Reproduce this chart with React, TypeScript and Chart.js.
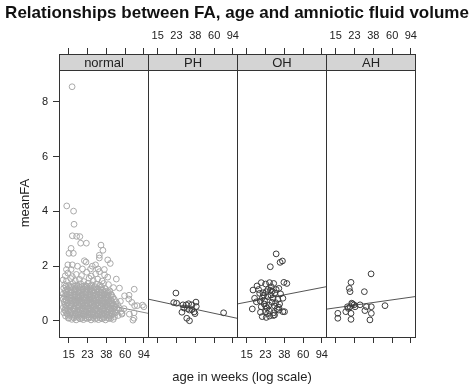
import React, { useEffect, useRef } from 'react';
import { Chart, registerables } from 'chart.js';

Chart.register(...registerables);

// ---------- data ----------
const panelNames = ['normal', 'PH', 'OH', 'AH'];

const ageTickValues = [15, 23.7, 37.6, 59.5, 94];
const ageTickLabels = ['15', '23', '38', '60', '94'];
const faTickValues = [0, 2, 4, 6, 8];
const faTickLabels = ['0', '2', '4', '6', '8'];

const titleText = 'Relationships between FA, age and amniotic fluid volume';
const xTitle = 'age in weeks (log scale)';
const yTitle = 'meanFA';

// [age in weeks, meanFA]
const normalPoints: number[][] = [
  [16.2, 0.06], [18.0, 0.04], [19.8, 0.08], [21.5, 0.05], [23.6, 0.09], [25.9, 0.04], [28.4, 0.07], [31.0, 0.05], [33.9, 0.08], [36.8, 0.04], [40.1, 0.09], [14.9, 0.1], [44.5, 0.06], [72, 0.03], [74, 0.1],
  [15.1, 0.12], [17.0, 0.11], [18.9, 0.13], [20.7, 0.1], [22.6, 0.12], [24.8, 0.11], [27.1, 0.13], [29.7, 0.1], [32.4, 0.12], [35.3, 0.11], [38.5, 0.13], [42.1, 0.1],
  [13.9, 0.18], [15.4, 0.2], [17.1, 0.16], [18.8, 0.21], [20.6, 0.17], [22.5, 0.2], [24.6, 0.15], [26.8, 0.22], [29.2, 0.18], [31.9, 0.2], [34.8, 0.16], [37.9, 0.21], [41.3, 0.18], [45.8, 0.15], [50.2, 0.2],
  [14.6, 0.24], [16.3, 0.23], [18.0, 0.25], [19.9, 0.22], [21.8, 0.24], [23.9, 0.23], [26.0, 0.25], [28.3, 0.22], [30.9, 0.24], [33.6, 0.23], [36.6, 0.25], [39.9, 0.22], [43.5, 0.24],
  [13.3, 0.3], [14.5, 0.27], [16.0, 0.32], [17.7, 0.28], [19.4, 0.31], [21.2, 0.26], [23.1, 0.33], [25.2, 0.28], [27.5, 0.3], [30.0, 0.27], [32.8, 0.32], [35.7, 0.29], [39.0, 0.31], [42.6, 0.27], [47.0, 0.3], [55.2, 0.28], [66, 0.25], [74, 0.3],
  [14.0, 0.35], [15.6, 0.34], [17.3, 0.36], [19.0, 0.33], [20.9, 0.35], [22.8, 0.34], [24.9, 0.36], [27.2, 0.33], [29.6, 0.35], [32.3, 0.34], [35.2, 0.36], [38.4, 0.33], [41.9, 0.35], [46.0, 0.34],
  [13.6, 0.4], [15.0, 0.37], [16.6, 0.43], [18.3, 0.38], [20.0, 0.42], [21.9, 0.36], [23.9, 0.44], [26.1, 0.39], [28.5, 0.41], [31.1, 0.37], [33.9, 0.43], [37.0, 0.38], [40.4, 0.42], [44.2, 0.36], [48.9, 0.41], [54, 0.35], [58, 0.45],
  [13.9, 0.45], [15.4, 0.46], [17.0, 0.44], [18.8, 0.46], [20.6, 0.45], [22.5, 0.44], [24.5, 0.46], [26.8, 0.45], [29.3, 0.44], [31.9, 0.46], [34.8, 0.45], [37.9, 0.44], [41.4, 0.46], [45.3, 0.45],
  [13.2, 0.5], [14.3, 0.47], [15.7, 0.53], [17.3, 0.48], [19.0, 0.52], [20.8, 0.46], [22.7, 0.54], [24.8, 0.49], [27.1, 0.51], [29.6, 0.47], [32.3, 0.53], [35.3, 0.48], [38.5, 0.52], [42.0, 0.46], [46.3, 0.5], [51.5, 0.48], [75, 0.56], [80, 0.56],
  [14.1, 0.55], [15.9, 0.56], [17.6, 0.54], [19.4, 0.56], [21.2, 0.55], [23.2, 0.54], [25.4, 0.56], [27.8, 0.55], [30.3, 0.54], [33.1, 0.56], [36.1, 0.55], [39.4, 0.54], [43.0, 0.56], [47.2, 0.55],
  [13.7, 0.6], [15.2, 0.57], [16.8, 0.63], [18.6, 0.58], [20.4, 0.62], [22.3, 0.56], [24.3, 0.64], [26.6, 0.59], [29.0, 0.61], [31.7, 0.57], [34.6, 0.63], [37.8, 0.58], [41.2, 0.62], [45.1, 0.57], [49.6, 0.6], [70, 0.68], [91, 0.58], [94, 0.52],
  [14.4, 0.65], [16.1, 0.64], [17.8, 0.66], [19.5, 0.65], [21.4, 0.64], [23.4, 0.66], [25.6, 0.65], [28.0, 0.64], [30.5, 0.66], [33.3, 0.65], [36.3, 0.64], [39.7, 0.66], [43.4, 0.65],
  [13.4, 0.7], [14.7, 0.67], [16.3, 0.73], [18.0, 0.68], [19.7, 0.72], [21.6, 0.66], [23.6, 0.74], [25.8, 0.69], [28.2, 0.71], [30.8, 0.67], [33.6, 0.73], [36.7, 0.68], [40.0, 0.72], [43.7, 0.66], [47.8, 0.7], [53, 0.72],
  [13.9, 0.75], [15.5, 0.74], [17.2, 0.76], [18.9, 0.75], [20.7, 0.74], [22.7, 0.76], [24.8, 0.75], [27.1, 0.74], [29.6, 0.76], [32.4, 0.75], [35.4, 0.74], [38.7, 0.76], [42.2, 0.75],
  [13.1, 0.8], [14.1, 0.77], [15.5, 0.83], [17.0, 0.78], [18.7, 0.82], [20.5, 0.76], [22.4, 0.84], [24.5, 0.79], [26.8, 0.81], [29.3, 0.77], [32.0, 0.83], [35.0, 0.78], [38.2, 0.82], [41.7, 0.76], [45.6, 0.8], [65, 0.8],
  [14.3, 0.85], [15.9, 0.84], [17.6, 0.86], [19.3, 0.85], [21.1, 0.84], [23.1, 0.86], [25.2, 0.85], [27.6, 0.84], [30.1, 0.86], [32.9, 0.85], [35.9, 0.84], [39.3, 0.86],
  [13.5, 0.9], [14.9, 0.87], [16.5, 0.93], [18.2, 0.88], [19.9, 0.92], [21.8, 0.86], [23.8, 0.94], [26.0, 0.89], [28.4, 0.91], [31.0, 0.87], [33.8, 0.93], [36.9, 0.88], [40.3, 0.92], [44.0, 0.87], [58.7, 0.92], [65.5, 0.94],
  [14.0, 0.95], [15.6, 0.94], [17.2, 0.96], [18.9, 0.95], [20.8, 0.94], [22.8, 0.96], [24.9, 0.95], [27.2, 0.94], [29.7, 0.96], [32.4, 0.95], [35.3, 0.94], [38.6, 0.96], [42.9, 0.93],
  [13.2, 1.0], [14.4, 0.97], [15.9, 1.03], [17.5, 0.98], [19.2, 1.02], [21.0, 0.96], [23.0, 1.04], [25.1, 0.99], [27.4, 1.01], [29.9, 0.97], [32.6, 1.03], [35.6, 0.98], [38.8, 1.02], [42.4, 0.97],
  [14.1, 1.05], [15.7, 1.04], [17.3, 1.06], [19.1, 1.05], [21.0, 1.04], [23.0, 1.06], [25.1, 1.05], [27.5, 1.04], [30.0, 1.06], [32.8, 1.05], [35.8, 1.04], [39.5, 1.06],
  [13.8, 1.1], [15.3, 1.07], [16.9, 1.13], [18.6, 1.08], [20.3, 1.12], [22.2, 1.06], [24.2, 1.14], [26.4, 1.09], [28.8, 1.11], [31.4, 1.07], [34.3, 1.13], [37.4, 1.08], [41.0, 1.1], [51.8, 1.2], [74.3, 1.16],
  [14.5, 1.15], [16.0, 1.14], [17.7, 1.16], [19.4, 1.15], [21.3, 1.14], [23.3, 1.16], [25.5, 1.15], [27.9, 1.14], [30.2, 1.16], [33.0, 1.15],
  [13.3, 1.2], [14.6, 1.17], [16.1, 1.24], [17.8, 1.19], [19.6, 1.23], [21.5, 1.17], [23.5, 1.25], [25.6, 1.2], [28.0, 1.22], [30.6, 1.18], [33.4, 1.24], [36.4, 1.19], [44.8, 1.22],
  [14.0, 1.27], [15.6, 1.26], [17.3, 1.28], [19.0, 1.27], [20.9, 1.26], [23.0, 1.28], [25.4, 1.27], [28.3, 1.26],
  [13.6, 1.33], [15.0, 1.3], [16.6, 1.37], [18.3, 1.31], [20.1, 1.36], [22.0, 1.29], [24.1, 1.38], [26.3, 1.32], [29.5, 1.35], [32.2, 1.3], [35.2, 1.37], [39.6, 1.33],
  [13.1, 1.5], [14.2, 1.45], [15.8, 1.55], [17.6, 1.47], [19.5, 1.52], [21.7, 1.44], [24.7, 1.56], [27.3, 1.48], [30.4, 1.53], [34.0, 1.46], [48, 1.53], [38.9, 1.6],
  [13.8, 1.65], [14.7, 1.75], [16.4, 1.62], [18.1, 1.7], [20.5, 1.66], [23.3, 1.78], [26.0, 1.64], [29.0, 1.72], [31.8, 1.8], [36.0, 1.68],
  [14.3, 4.2], [16.9, 4.01], [17.1, 3.53], [16.4, 3.11], [18.2, 3.09], [19.7, 3.08], [20.1, 2.84], [23.1, 2.84], [33.0, 2.77], [15.9, 2.65], [34.6, 2.58],
  [15.1, 2.47], [16.8, 2.47], [31.7, 2.4], [31.7, 2.3], [38.9, 2.23], [22.0, 2.2], [22.9, 2.15], [41.4, 2.1], [14.7, 2.05], [16.4, 2.05], [18.6, 2.0],
  [26.7, 2.0], [28.9, 2.05], [21.0, 1.9], [25.6, 1.9], [30.7, 1.9], [14.2, 1.88], [15.9, 1.88], [35.8, 1.88], [16.3, 8.55],
  [55, 0.25], [47, 0.3],
];

const phPoints: number[][] = [
  [23.4, 1.02], [22.2, 0.67], [23.8, 0.65], [27.8, 0.59], [30.1, 0.59], [31.9, 0.63], [34.6, 0.59], [38.2, 0.69], [38.5, 0.53],
  [28.3, 0.48], [31.0, 0.45], [34.6, 0.42], [36.5, 0.33], [27.1, 0.32], [32.6, 0.4], [37.3, 0.27], [30.5, 0.1], [32.6, 0.01], [75, 0.3],
];

const ohPoints: number[][] = [
  [30.8, 2.45], [26.7, 1.98], [33.9, 2.14], [35.9, 2.19],
  [17.5, 1.13], [19.3, 1.28], [21.4, 1.4], [23.8, 1.35], [26.2, 1.4], [29.0, 1.37], [32.9, 1.19], [37.2, 1.41], [40.0, 1.37],
  [18.2, 0.83], [20.6, 1.01], [22.3, 1.03], [25.2, 1.15], [28.0, 1.09], [30.8, 1.15], [34.3, 0.99],
  [19.0, 0.7], [20.9, 0.73], [23.2, 0.74], [25.2, 0.89], [28.5, 0.83], [32.1, 0.79], [36.3, 0.83],
  [17.2, 0.44], [21.4, 0.52], [23.8, 0.55], [25.8, 0.58], [29.6, 0.55], [32.9, 0.5],
  [23.8, 0.34], [26.2, 0.36], [29.0, 0.3], [32.9, 0.4], [36.3, 0.34], [21.9, 0.16], [24.2, 0.13], [26.2, 0.18], [29.6, 0.22], [37.8, 0.34],
  [22.7, 0.95], [27.1, 0.95], [30.4, 0.67], [24.2, 1.07], [27.3, 1.25], [20.05, 1.15],
  [23.0, 0.62], [27.8, 0.68], [31.5, 0.45], [25.0, 0.27], [22.0, 0.85], [26.8, 1.12], [29.8, 1.02], [33.5, 0.62], [24.6, 0.48], [28.8, 0.2], [21.0, 0.32],
];

const ahPoints: number[][] = [
  [35.6, 1.72], [21.8, 1.41], [20.9, 1.19], [21.3, 1.07], [30.2, 1.07], [22.2, 0.65], [23.5, 0.59], [21.3, 0.52], [20.4, 0.46], [19.2, 0.34],
  [27.2, 0.59], [31.8, 0.52], [35.8, 0.52], [30.6, 0.38], [35.8, 0.28], [34.6, 0.04], [50, 0.56], [15.8, 0.28], [15.8, 0.1], [21.8, 0.28],
  [21.8, 0.06], [24.1, 0.52], [22.6, 0.62], [20.0, 0.52],
];

// fitted line values at the left and right edge of each panel
const fitAtLeft = [0.95, 0.8, 0.62, 0.43];
const fitAtRight = [0.28, 0.1, 1.25, 0.89];

// ---------- layout / style ----------
const W = 474;
const H = 389;
const AGE_MIN = 11.84;
const AGE_MAX = 104;
const FA_MIN = -0.584;
const FA_MAX = 9.745;
const PANEL_LEFT = [59, 148, 237, 326];
const PANEL_W = 89;
const AREA_TOP = 54; // strip top
const AREA_BOTTOM = 337;
const STRIP_H = 16;
const FONT = "'Liberation Sans', Arial, Helvetica, sans-serif";
const INK = '#222';
const FRAME = '#333';

const allPoints = [normalPoints, phPoints, ohPoints, ahPoints];

const stripPlugin = {
  id: 'strip',
  beforeDatasetsDraw(chart: any, _a: any, opts: any) {
    const { ctx, chartArea } = chart;
    const l = Math.round(chartArea.left) + 0.5;
    const r = Math.round(chartArea.right) + 0.5;
    const t = Math.round(chartArea.top) + 0.5;
    ctx.save();
    ctx.fillStyle = '#d4d4d4';
    ctx.fillRect(l, t, r - l, STRIP_H);
    ctx.strokeStyle = FRAME;
    ctx.lineWidth = 1;
    ctx.beginPath();
    ctx.moveTo(l, t + STRIP_H);
    ctx.lineTo(r, t + STRIP_H);
    ctx.stroke();
    ctx.fillStyle = INK;
    ctx.font = `13px ${FONT}`;
    ctx.textAlign = 'center';
    ctx.textBaseline = 'middle';
    ctx.fillText(opts.label, (l + r) / 2, t + STRIP_H / 2 + 0.5);
    ctx.restore();
  },
  afterDraw(chart: any) {
    const { ctx, chartArea } = chart;
    const l = Math.round(chartArea.left) + 0.5;
    const r = Math.round(chartArea.right) + 0.5;
    const t = Math.round(chartArea.top) + 0.5;
    const b = Math.round(chartArea.bottom) + 0.5;
    ctx.save();
    ctx.strokeStyle = FRAME;
    ctx.lineWidth = 1;
    ctx.strokeRect(l, t, r - l, b - t);
    ctx.restore();
  },
};

const framePlugin = {
  id: 'frameText',
  afterDraw(chart: any, _a: any, opts: any) {
    if (!opts.enabled) return;
    const { ctx } = chart;
    ctx.save();
    ctx.fillStyle = '#111';
    ctx.textAlign = 'center';
    ctx.textBaseline = 'alphabetic';
    ctx.font = `bold 17px ${FONT}`;
    ctx.fillText(titleText, 237, 18);
    ctx.fillStyle = INK;
    ctx.font = `13px ${FONT}`;
    ctx.textBaseline = 'middle';
    ctx.fillText(xTitle, 242, 377);
    ctx.translate(25, 203);
    ctx.rotate(-Math.PI / 2);
    ctx.fillText(yTitle, 0, 0);
    ctx.restore();
  },
};

function makeConfig(i: number): any {
  const left = PANEL_LEFT[i];
  const right = W - (left + PANEL_W);
  const padLeft = i === 0 ? 20 : left;
  const tickFont = { family: FONT, size: 11 };
  const xAxis = (position: 'top' | 'bottom', showLabels: boolean) => ({
    type: 'logarithmic',
    position,
    min: AGE_MIN,
    max: AGE_MAX,
    afterBuildTicks: (s: any) => {
      s.ticks = ageTickValues.map((v) => ({ value: v }));
    },
    afterFit: (s: any) => {
      s.height = position === 'top' ? AREA_TOP - 24 : H - 20 - AREA_BOTTOM;
    },
    ticks: {
      display: showLabels,
      autoSkip: false,
      maxRotation: 0,
      minRotation: 0,
      padding: 5,
      color: INK,
      font: tickFont,
      callback: (_v: any, idx: number) => ageTickLabels[idx],
    },
    grid: { display: true, drawOnChartArea: false, drawTicks: true, tickLength: 6, color: FRAME },
    border: { display: true, color: FRAME },
  });
  return {
    type: 'scatter',
    data: {
      datasets: [
        {
          type: 'scatter',
          data: allPoints[i].map(([x, y]) => ({ x, y })),
          pointRadius: 2.9,
          pointBorderWidth: 1,
          pointBorderColor: i === 0 ? '#a9a9a9' : '#3c3c3c',
          pointBackgroundColor: 'rgba(0,0,0,0)',
          xAxisID: 'x',
          yAxisID: 'y',
        },
        {
          type: 'line',
          data: [
            { x: AGE_MIN, y: fitAtLeft[i] },
            { x: AGE_MAX, y: fitAtRight[i] },
          ],
          borderColor: i === 0 ? '#8a8a8a' : '#555',
          borderWidth: 1,
          pointRadius: 0,
          fill: false,
          xAxisID: 'x',
          yAxisID: 'y',
        },
      ],
    },
    options: {
      animation: false,
      responsive: false,
      events: [],
      layout: { autoPadding: false, padding: { left: padLeft, right, top: 24, bottom: 20 } },
      plugins: {
        legend: { display: false },
        tooltip: { enabled: false },
        title: { display: false },
        strip: { label: panelNames[i] },
        frameText: { enabled: i === 0 },
      },
      scales: {
        x: xAxis('bottom', i === 0 || i === 2),
        x2: xAxis('top', i === 1 || i === 3),
        y: {
          type: 'linear',
          position: 'left',
          display: i === 0,
          min: FA_MIN,
          max: FA_MAX,
          afterBuildTicks: (s: any) => {
            s.ticks = faTickValues.map((v) => ({ value: v }));
          },
          afterFit: (s: any) => {
            s.width = left - padLeft;
          },
          ticks: {
            padding: 5,
            color: INK,
            font: tickFont,
            callback: (_v: any, idx: number) => faTickLabels[idx],
          },
          grid: { display: true, drawOnChartArea: false, drawTicks: true, tickLength: 6, color: FRAME },
          border: { display: true, color: FRAME },
        },
      },
    },
    plugins: [stripPlugin, framePlugin],
  };
}

function Panel({ index }: { index: number }) {
  const ref = useRef<HTMLCanvasElement | null>(null);
  useEffect(() => {
    if (!ref.current) return;
    const chart = new Chart(ref.current, makeConfig(index));
    return () => chart.destroy();
  }, [index]);
  return (
    <canvas
      ref={ref}
      width={W}
      height={H}
      style={{ position: 'absolute', left: 0, top: 0, width: W, height: H }}
    />
  );
}

export default function App() {
  return (
    <div style={{ position: 'absolute', left: 0, top: 0, width: W, height: H, background: '#fff' }}>
      {panelNames.map((_, i) => (
        <Panel key={i} index={i} />
      ))}
    </div>
  );
}
